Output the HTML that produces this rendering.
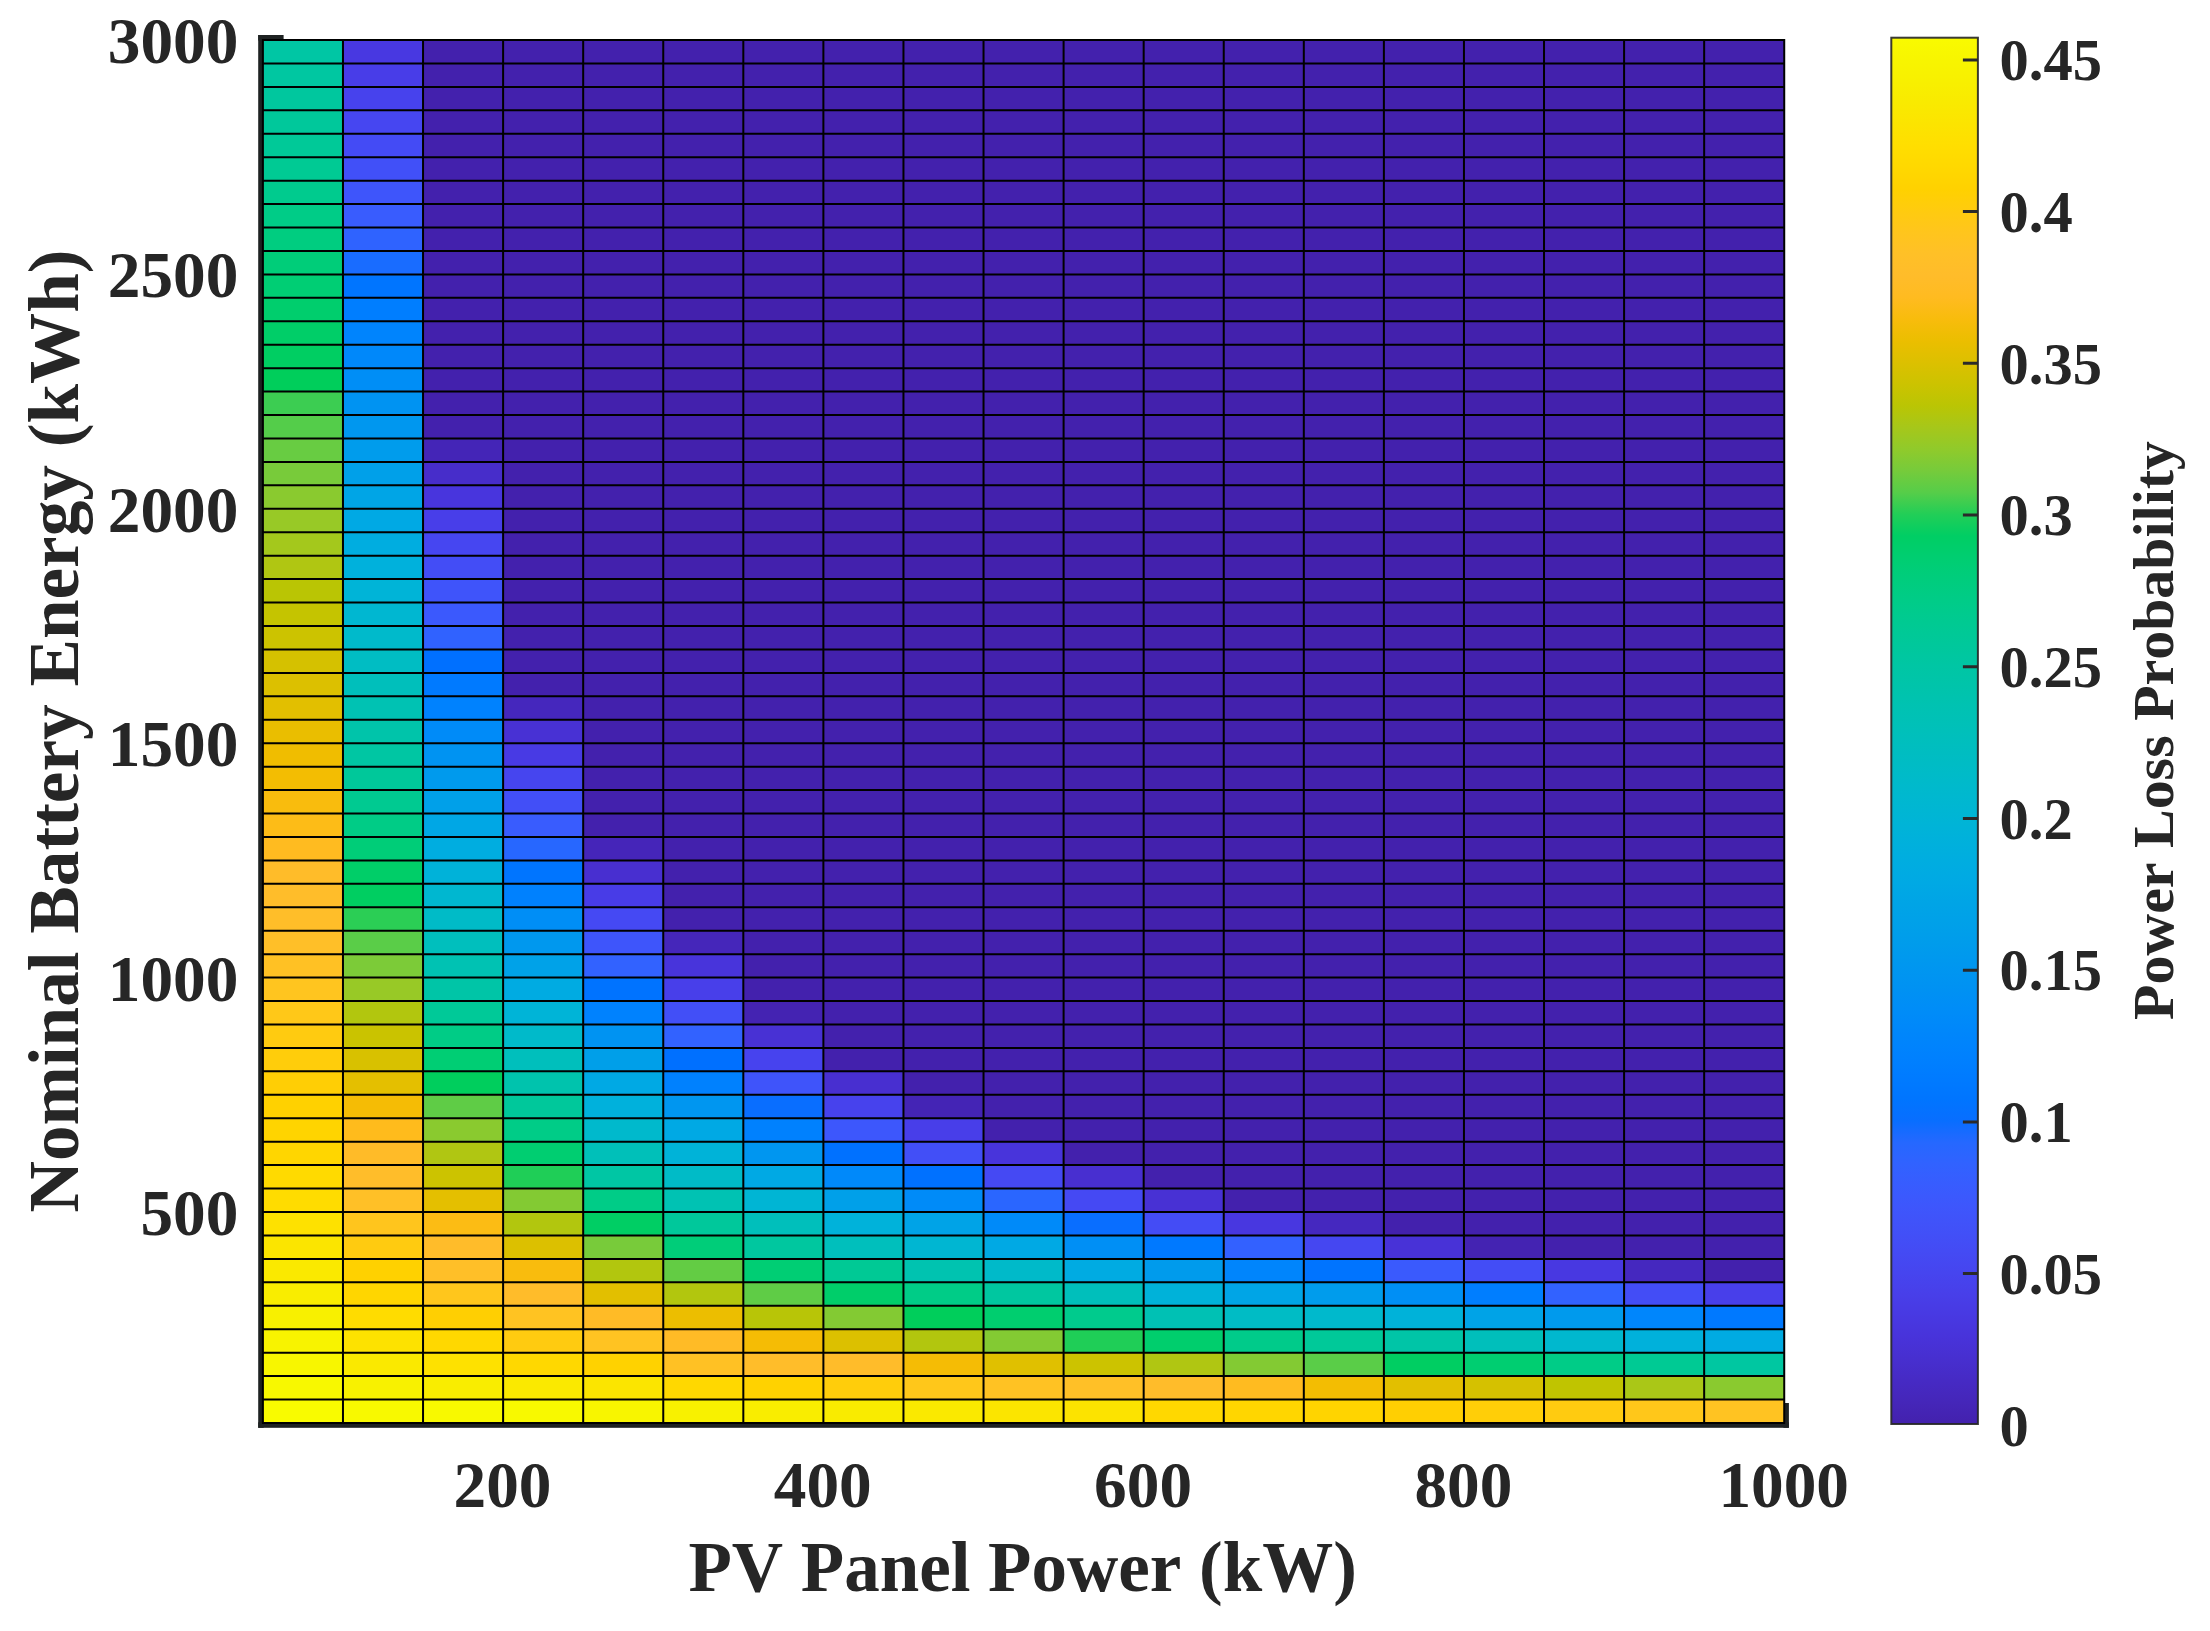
<!DOCTYPE html>
<html><head><meta charset="utf-8"><title>Power Loss Probability</title>
<style>
html,body{margin:0;padding:0;background:#fff}
body{width:2210px;height:1631px;overflow:hidden}
svg{display:block}
text{font-family:"Liberation Serif","Times New Roman",serif;font-weight:bold;fill:#262626;font-kerning:none}
</style></head><body>
<svg width="2210" height="1631" viewBox="0 0 2210 1631">
<rect width="2210" height="1631" fill="#fff"/>
<g id="ticks" fill="#1e2222">
<rect x="258.2" y="35" width="25.4" height="5.6"/>
<rect x="1783.4" y="1403" width="5.5" height="24.8"/>
</g>
<g id="axes" fill="#1e2222">
<rect x="258.2" y="35" width="5.5" height="1392.8"/>
<rect x="258.2" y="1422.3" width="1530.7" height="5.5"/>
</g>
<g id="cells" shape-rendering="crispEdges">
<rect x="262.90" y="1399.52" width="80.37" height="23.74" fill="#f9fb00"/>
<rect x="342.97" y="1399.52" width="240.51" height="23.74" fill="#f8f900"/>
<rect x="583.18" y="1399.52" width="80.37" height="23.74" fill="#f8f500"/>
<rect x="663.25" y="1399.52" width="80.37" height="23.74" fill="#f8f100"/>
<rect x="743.32" y="1399.52" width="80.37" height="23.74" fill="#f9ed00"/>
<rect x="823.39" y="1399.52" width="80.37" height="23.74" fill="#f9eb00"/>
<rect x="903.46" y="1399.52" width="80.37" height="23.74" fill="#fae900"/>
<rect x="983.53" y="1399.52" width="80.37" height="23.74" fill="#fbe500"/>
<rect x="1063.60" y="1399.52" width="80.37" height="23.74" fill="#fce300"/>
<rect x="1143.67" y="1399.52" width="80.37" height="23.74" fill="#ffd800"/>
<rect x="1223.74" y="1399.52" width="80.37" height="23.74" fill="#ffd600"/>
<rect x="1303.81" y="1399.52" width="80.37" height="23.74" fill="#ffd400"/>
<rect x="1383.88" y="1399.52" width="80.37" height="23.74" fill="#ffcf02"/>
<rect x="1463.95" y="1399.52" width="80.37" height="23.74" fill="#ffce08"/>
<rect x="1544.02" y="1399.52" width="80.37" height="23.74" fill="#ffcb10"/>
<rect x="1624.09" y="1399.52" width="80.37" height="23.74" fill="#ffc71a"/>
<rect x="1704.16" y="1399.52" width="80.37" height="23.74" fill="#ffc322"/>
<rect x="262.90" y="1376.08" width="80.37" height="23.74" fill="#f8f800"/>
<rect x="342.97" y="1376.08" width="80.37" height="23.74" fill="#f8f100"/>
<rect x="423.04" y="1376.08" width="80.37" height="23.74" fill="#f9ed00"/>
<rect x="503.11" y="1376.08" width="80.37" height="23.74" fill="#fae900"/>
<rect x="583.18" y="1376.08" width="80.37" height="23.74" fill="#fbe500"/>
<rect x="663.25" y="1376.08" width="80.37" height="23.74" fill="#ffd800"/>
<rect x="743.32" y="1376.08" width="80.37" height="23.74" fill="#ffd200"/>
<rect x="823.39" y="1376.08" width="80.37" height="23.74" fill="#ffcd0b"/>
<rect x="903.46" y="1376.08" width="80.37" height="23.74" fill="#ffc71a"/>
<rect x="983.53" y="1376.08" width="80.37" height="23.74" fill="#ffc223"/>
<rect x="1063.60" y="1376.08" width="80.37" height="23.74" fill="#ffc027"/>
<rect x="1143.67" y="1376.08" width="80.37" height="23.74" fill="#ffbc2a"/>
<rect x="1223.74" y="1376.08" width="80.37" height="23.74" fill="#ffbb20"/>
<rect x="1303.81" y="1376.08" width="80.37" height="23.74" fill="#f3bd02"/>
<rect x="1383.88" y="1376.08" width="80.37" height="23.74" fill="#e2bf00"/>
<rect x="1463.95" y="1376.08" width="80.37" height="23.74" fill="#d5c100"/>
<rect x="1544.02" y="1376.08" width="80.37" height="23.74" fill="#c0c400"/>
<rect x="1624.09" y="1376.08" width="80.37" height="23.74" fill="#aac717"/>
<rect x="1704.16" y="1376.08" width="80.37" height="23.74" fill="#8aca2f"/>
<rect x="262.90" y="1352.64" width="80.37" height="23.74" fill="#f8f600"/>
<rect x="342.97" y="1352.64" width="80.37" height="23.74" fill="#fae900"/>
<rect x="423.04" y="1352.64" width="80.37" height="23.74" fill="#fee100"/>
<rect x="503.11" y="1352.64" width="80.37" height="23.74" fill="#ffd800"/>
<rect x="583.18" y="1352.64" width="80.37" height="23.74" fill="#ffd200"/>
<rect x="663.25" y="1352.64" width="80.37" height="23.74" fill="#ffc124"/>
<rect x="743.32" y="1352.64" width="80.37" height="23.74" fill="#ffbd2a"/>
<rect x="823.39" y="1352.64" width="80.37" height="23.74" fill="#ffbc2a"/>
<rect x="903.46" y="1352.64" width="80.37" height="23.74" fill="#f5bc05"/>
<rect x="983.53" y="1352.64" width="80.37" height="23.74" fill="#e0c000"/>
<rect x="1063.60" y="1352.64" width="80.37" height="23.74" fill="#ccc300"/>
<rect x="1143.67" y="1352.64" width="80.37" height="23.74" fill="#b0c612"/>
<rect x="1223.74" y="1352.64" width="80.37" height="23.74" fill="#83ca33"/>
<rect x="1303.81" y="1352.64" width="80.37" height="23.74" fill="#5acd48"/>
<rect x="1383.88" y="1352.64" width="80.37" height="23.74" fill="#00ce62"/>
<rect x="1463.95" y="1352.64" width="80.37" height="23.74" fill="#00ce71"/>
<rect x="1544.02" y="1352.64" width="80.37" height="23.74" fill="#00cc87"/>
<rect x="1624.09" y="1352.64" width="80.37" height="23.74" fill="#00ca94"/>
<rect x="1704.16" y="1352.64" width="80.37" height="23.74" fill="#00c7a1"/>
<rect x="262.90" y="1329.20" width="80.37" height="23.74" fill="#f8f300"/>
<rect x="342.97" y="1329.20" width="80.37" height="23.74" fill="#fde200"/>
<rect x="423.04" y="1329.20" width="80.37" height="23.74" fill="#ffd800"/>
<rect x="503.11" y="1329.20" width="80.37" height="23.74" fill="#ffcb10"/>
<rect x="583.18" y="1329.20" width="80.37" height="23.74" fill="#ffc322"/>
<rect x="663.25" y="1329.20" width="80.37" height="23.74" fill="#ffbb26"/>
<rect x="743.32" y="1329.20" width="80.37" height="23.74" fill="#f5bc05"/>
<rect x="823.39" y="1329.20" width="80.37" height="23.74" fill="#dcc000"/>
<rect x="903.46" y="1329.20" width="80.37" height="23.74" fill="#b2c60e"/>
<rect x="983.53" y="1329.20" width="80.37" height="23.74" fill="#83ca33"/>
<rect x="1063.60" y="1329.20" width="80.37" height="23.74" fill="#1fce57"/>
<rect x="1143.67" y="1329.20" width="80.37" height="23.74" fill="#00ce6d"/>
<rect x="1223.74" y="1329.20" width="80.37" height="23.74" fill="#00cb8a"/>
<rect x="1303.81" y="1329.20" width="80.37" height="23.74" fill="#00c999"/>
<rect x="1383.88" y="1329.20" width="80.37" height="23.74" fill="#00c5a7"/>
<rect x="1463.95" y="1329.20" width="80.37" height="23.74" fill="#00bfbb"/>
<rect x="1544.02" y="1329.20" width="80.37" height="23.74" fill="#00b8ce"/>
<rect x="1624.09" y="1329.20" width="80.37" height="23.74" fill="#00b1db"/>
<rect x="1704.16" y="1329.20" width="80.37" height="23.74" fill="#00abe2"/>
<rect x="262.90" y="1305.76" width="80.37" height="23.74" fill="#f8f000"/>
<rect x="342.97" y="1305.76" width="80.37" height="23.74" fill="#ffdc00"/>
<rect x="423.04" y="1305.76" width="80.37" height="23.74" fill="#ffcf02"/>
<rect x="503.11" y="1305.76" width="80.37" height="23.74" fill="#ffc322"/>
<rect x="583.18" y="1305.76" width="80.37" height="23.74" fill="#ffbb26"/>
<rect x="663.25" y="1305.76" width="80.37" height="23.74" fill="#ecbe00"/>
<rect x="743.32" y="1305.76" width="80.37" height="23.74" fill="#b8c507"/>
<rect x="823.39" y="1305.76" width="80.37" height="23.74" fill="#83ca33"/>
<rect x="903.46" y="1305.76" width="80.37" height="23.74" fill="#00ce5b"/>
<rect x="983.53" y="1305.76" width="80.37" height="23.74" fill="#00ce6f"/>
<rect x="1063.60" y="1305.76" width="80.37" height="23.74" fill="#00cb8d"/>
<rect x="1143.67" y="1305.76" width="80.37" height="23.74" fill="#00c1b4"/>
<rect x="1223.74" y="1305.76" width="80.37" height="23.74" fill="#00bcc5"/>
<rect x="1303.81" y="1305.76" width="80.37" height="23.74" fill="#00b9cc"/>
<rect x="1383.88" y="1305.76" width="80.37" height="23.74" fill="#00b2d9"/>
<rect x="1463.95" y="1305.76" width="80.37" height="23.74" fill="#00a3e7"/>
<rect x="1544.02" y="1305.76" width="80.37" height="23.74" fill="#009aed"/>
<rect x="1624.09" y="1305.76" width="80.37" height="23.74" fill="#0086fc"/>
<rect x="1704.16" y="1305.76" width="80.37" height="23.74" fill="#0079ff"/>
<rect x="262.90" y="1282.32" width="80.37" height="23.74" fill="#f9ed00"/>
<rect x="342.97" y="1282.32" width="80.37" height="23.74" fill="#ffd600"/>
<rect x="423.04" y="1282.32" width="80.37" height="23.74" fill="#ffc61c"/>
<rect x="503.11" y="1282.32" width="80.37" height="23.74" fill="#ffbc2a"/>
<rect x="583.18" y="1282.32" width="80.37" height="23.74" fill="#e2bf00"/>
<rect x="663.25" y="1282.32" width="80.37" height="23.74" fill="#b2c60e"/>
<rect x="743.32" y="1282.32" width="80.37" height="23.74" fill="#5fcc46"/>
<rect x="823.39" y="1282.32" width="80.37" height="23.74" fill="#00ce6a"/>
<rect x="903.46" y="1282.32" width="80.37" height="23.74" fill="#00cc87"/>
<rect x="983.53" y="1282.32" width="80.37" height="23.74" fill="#00c7a0"/>
<rect x="1063.60" y="1282.32" width="80.37" height="23.74" fill="#00bfbb"/>
<rect x="1143.67" y="1282.32" width="80.37" height="23.74" fill="#00b2d9"/>
<rect x="1223.74" y="1282.32" width="80.37" height="23.74" fill="#00a5e6"/>
<rect x="1303.81" y="1282.32" width="80.37" height="23.74" fill="#009cec"/>
<rect x="1383.88" y="1282.32" width="80.37" height="23.74" fill="#008ff5"/>
<rect x="1463.95" y="1282.32" width="80.37" height="23.74" fill="#007eff"/>
<rect x="1544.02" y="1282.32" width="80.37" height="23.74" fill="#3262ff"/>
<rect x="1624.09" y="1282.32" width="80.37" height="23.74" fill="#434df6"/>
<rect x="1704.16" y="1282.32" width="80.37" height="23.74" fill="#483fea"/>
<rect x="262.90" y="1258.88" width="80.37" height="23.74" fill="#fae900"/>
<rect x="342.97" y="1258.88" width="80.37" height="23.74" fill="#ffd100"/>
<rect x="423.04" y="1258.88" width="80.37" height="23.74" fill="#ffbf28"/>
<rect x="503.11" y="1258.88" width="80.37" height="23.74" fill="#f9bc0d"/>
<rect x="583.18" y="1258.88" width="80.37" height="23.74" fill="#b2c60e"/>
<rect x="663.25" y="1258.88" width="80.37" height="23.74" fill="#63cc44"/>
<rect x="743.32" y="1258.88" width="80.37" height="23.74" fill="#00ce74"/>
<rect x="823.39" y="1258.88" width="80.37" height="23.74" fill="#00c995"/>
<rect x="903.46" y="1258.88" width="80.37" height="23.74" fill="#00c3b0"/>
<rect x="983.53" y="1258.88" width="80.37" height="23.74" fill="#00bac9"/>
<rect x="1063.60" y="1258.88" width="80.37" height="23.74" fill="#00abe2"/>
<rect x="1143.67" y="1258.88" width="80.37" height="23.74" fill="#009bec"/>
<rect x="1223.74" y="1258.88" width="80.37" height="23.74" fill="#0085fc"/>
<rect x="1303.81" y="1258.88" width="80.37" height="23.74" fill="#0074ff"/>
<rect x="1383.88" y="1258.88" width="80.37" height="23.74" fill="#3a5afd"/>
<rect x="1463.95" y="1258.88" width="80.37" height="23.74" fill="#434df6"/>
<rect x="1544.02" y="1258.88" width="80.37" height="23.74" fill="#4838e1"/>
<rect x="1624.09" y="1258.88" width="80.37" height="23.74" fill="#4528bf"/>
<rect x="1704.16" y="1258.88" width="80.37" height="23.74" fill="#4321ad"/>
<rect x="262.90" y="1235.44" width="80.37" height="23.74" fill="#fbe500"/>
<rect x="342.97" y="1235.44" width="80.37" height="23.74" fill="#ffcb10"/>
<rect x="423.04" y="1235.44" width="80.37" height="23.74" fill="#ffbc2a"/>
<rect x="503.11" y="1235.44" width="80.37" height="23.74" fill="#dcc000"/>
<rect x="583.18" y="1235.44" width="80.37" height="23.74" fill="#78cb3a"/>
<rect x="663.25" y="1235.44" width="80.37" height="23.74" fill="#00cd79"/>
<rect x="743.32" y="1235.44" width="80.37" height="23.74" fill="#00c79f"/>
<rect x="823.39" y="1235.44" width="80.37" height="23.74" fill="#00bfbc"/>
<rect x="903.46" y="1235.44" width="80.37" height="23.74" fill="#00b6d2"/>
<rect x="983.53" y="1235.44" width="80.37" height="23.74" fill="#00a9e4"/>
<rect x="1063.60" y="1235.44" width="80.37" height="23.74" fill="#008ff5"/>
<rect x="1143.67" y="1235.44" width="80.37" height="23.74" fill="#0079ff"/>
<rect x="1223.74" y="1235.44" width="80.37" height="23.74" fill="#3361ff"/>
<rect x="1303.81" y="1235.44" width="80.37" height="23.74" fill="#4547f1"/>
<rect x="1383.88" y="1235.44" width="80.37" height="23.74" fill="#4832d7"/>
<rect x="1463.95" y="1235.44" width="80.37" height="23.74" fill="#4423b2"/>
<rect x="1544.02" y="1235.44" width="240.51" height="23.74" fill="#4321ad"/>
<rect x="262.90" y="1212.00" width="80.37" height="23.74" fill="#fee100"/>
<rect x="342.97" y="1212.00" width="80.37" height="23.74" fill="#ffc51d"/>
<rect x="423.04" y="1212.00" width="80.37" height="23.74" fill="#fcbc14"/>
<rect x="503.11" y="1212.00" width="80.37" height="23.74" fill="#b2c60e"/>
<rect x="583.18" y="1212.00" width="80.37" height="23.74" fill="#00ce64"/>
<rect x="663.25" y="1212.00" width="80.37" height="23.74" fill="#00c89b"/>
<rect x="743.32" y="1212.00" width="80.37" height="23.74" fill="#00bfbb"/>
<rect x="823.39" y="1212.00" width="80.37" height="23.74" fill="#00b2da"/>
<rect x="903.46" y="1212.00" width="80.37" height="23.74" fill="#00a3e7"/>
<rect x="983.53" y="1212.00" width="80.37" height="23.74" fill="#008af9"/>
<rect x="1063.60" y="1212.00" width="80.37" height="23.74" fill="#096eff"/>
<rect x="1143.67" y="1212.00" width="80.37" height="23.74" fill="#444cf5"/>
<rect x="1223.74" y="1212.00" width="80.37" height="23.74" fill="#4837e0"/>
<rect x="1303.81" y="1212.00" width="80.37" height="23.74" fill="#4528bf"/>
<rect x="1383.88" y="1212.00" width="400.65" height="23.74" fill="#4321ad"/>
<rect x="262.90" y="1188.56" width="80.37" height="23.74" fill="#ffdc00"/>
<rect x="342.97" y="1188.56" width="80.37" height="23.74" fill="#ffc027"/>
<rect x="423.04" y="1188.56" width="80.37" height="23.74" fill="#e4bf00"/>
<rect x="503.11" y="1188.56" width="80.37" height="23.74" fill="#83ca33"/>
<rect x="583.18" y="1188.56" width="80.37" height="23.74" fill="#00cc87"/>
<rect x="663.25" y="1188.56" width="80.37" height="23.74" fill="#00c2b3"/>
<rect x="743.32" y="1188.56" width="80.37" height="23.74" fill="#00b5d4"/>
<rect x="823.39" y="1188.56" width="80.37" height="23.74" fill="#00a0e9"/>
<rect x="903.46" y="1188.56" width="80.37" height="23.74" fill="#008bf8"/>
<rect x="983.53" y="1188.56" width="80.37" height="23.74" fill="#2a66ff"/>
<rect x="1063.60" y="1188.56" width="80.37" height="23.74" fill="#4549f3"/>
<rect x="1143.67" y="1188.56" width="80.37" height="23.74" fill="#4831d4"/>
<rect x="1223.74" y="1188.56" width="560.79" height="23.74" fill="#4321ad"/>
<rect x="262.90" y="1165.12" width="80.37" height="23.74" fill="#ffda00"/>
<rect x="342.97" y="1165.12" width="80.37" height="23.74" fill="#ffbd2a"/>
<rect x="423.04" y="1165.12" width="80.37" height="23.74" fill="#ccc300"/>
<rect x="503.11" y="1165.12" width="80.37" height="23.74" fill="#1fce57"/>
<rect x="583.18" y="1165.12" width="80.37" height="23.74" fill="#00c6a4"/>
<rect x="663.25" y="1165.12" width="80.37" height="23.74" fill="#00bbc7"/>
<rect x="743.32" y="1165.12" width="80.37" height="23.74" fill="#00a9e4"/>
<rect x="823.39" y="1165.12" width="80.37" height="23.74" fill="#0089fa"/>
<rect x="903.46" y="1165.12" width="80.37" height="23.74" fill="#0071ff"/>
<rect x="983.53" y="1165.12" width="80.37" height="23.74" fill="#4549f3"/>
<rect x="1063.60" y="1165.12" width="80.37" height="23.74" fill="#482fd0"/>
<rect x="1143.67" y="1165.12" width="640.86" height="23.74" fill="#4321ad"/>
<rect x="262.90" y="1141.68" width="80.37" height="23.74" fill="#ffd600"/>
<rect x="342.97" y="1141.68" width="80.37" height="23.74" fill="#ffbb28"/>
<rect x="423.04" y="1141.68" width="80.37" height="23.74" fill="#b0c612"/>
<rect x="503.11" y="1141.68" width="80.37" height="23.74" fill="#00ce71"/>
<rect x="583.18" y="1141.68" width="80.37" height="23.74" fill="#00c0b9"/>
<rect x="663.25" y="1141.68" width="80.37" height="23.74" fill="#00b3d8"/>
<rect x="743.32" y="1141.68" width="80.37" height="23.74" fill="#0096f0"/>
<rect x="823.39" y="1141.68" width="80.37" height="23.74" fill="#0071ff"/>
<rect x="903.46" y="1141.68" width="80.37" height="23.74" fill="#424ff7"/>
<rect x="983.53" y="1141.68" width="80.37" height="23.74" fill="#4834db"/>
<rect x="1063.60" y="1141.68" width="720.93" height="23.74" fill="#4321ad"/>
<rect x="262.90" y="1118.24" width="80.37" height="23.74" fill="#ffd400"/>
<rect x="342.97" y="1118.24" width="80.37" height="23.74" fill="#ffbb1c"/>
<rect x="423.04" y="1118.24" width="80.37" height="23.74" fill="#8aca2f"/>
<rect x="503.11" y="1118.24" width="80.37" height="23.74" fill="#00cc87"/>
<rect x="583.18" y="1118.24" width="80.37" height="23.74" fill="#00b9cc"/>
<rect x="663.25" y="1118.24" width="80.37" height="23.74" fill="#00a9e4"/>
<rect x="743.32" y="1118.24" width="80.37" height="23.74" fill="#0081fe"/>
<rect x="823.39" y="1118.24" width="80.37" height="23.74" fill="#3d57fc"/>
<rect x="903.46" y="1118.24" width="80.37" height="23.74" fill="#483ee9"/>
<rect x="983.53" y="1118.24" width="801.00" height="23.74" fill="#4321ad"/>
<rect x="262.90" y="1094.80" width="80.37" height="23.74" fill="#ffd100"/>
<rect x="342.97" y="1094.80" width="80.37" height="23.74" fill="#f5bc05"/>
<rect x="423.04" y="1094.80" width="80.37" height="23.74" fill="#5fcc46"/>
<rect x="503.11" y="1094.80" width="80.37" height="23.74" fill="#00c89b"/>
<rect x="583.18" y="1094.80" width="80.37" height="23.74" fill="#00b1dc"/>
<rect x="663.25" y="1094.80" width="80.37" height="23.74" fill="#0096f0"/>
<rect x="743.32" y="1094.80" width="80.37" height="23.74" fill="#096eff"/>
<rect x="823.39" y="1094.80" width="80.37" height="23.74" fill="#4742ed"/>
<rect x="903.46" y="1094.80" width="80.37" height="23.74" fill="#4424b5"/>
<rect x="983.53" y="1094.80" width="801.00" height="23.74" fill="#4321ad"/>
<rect x="262.90" y="1071.36" width="80.37" height="23.74" fill="#ffce05"/>
<rect x="342.97" y="1071.36" width="80.37" height="23.74" fill="#e4bf00"/>
<rect x="423.04" y="1071.36" width="80.37" height="23.74" fill="#00ce5d"/>
<rect x="503.11" y="1071.36" width="80.37" height="23.74" fill="#00c3ad"/>
<rect x="583.18" y="1071.36" width="80.37" height="23.74" fill="#00a9e4"/>
<rect x="663.25" y="1071.36" width="80.37" height="23.74" fill="#0081fe"/>
<rect x="743.32" y="1071.36" width="80.37" height="23.74" fill="#3f54fa"/>
<rect x="823.39" y="1071.36" width="80.37" height="23.74" fill="#482fd0"/>
<rect x="903.46" y="1071.36" width="881.07" height="23.74" fill="#4321ad"/>
<rect x="262.90" y="1047.92" width="80.37" height="23.74" fill="#ffcd0b"/>
<rect x="342.97" y="1047.92" width="80.37" height="23.74" fill="#d8c100"/>
<rect x="423.04" y="1047.92" width="80.37" height="23.74" fill="#00ce74"/>
<rect x="503.11" y="1047.92" width="80.37" height="23.74" fill="#00bfbc"/>
<rect x="583.18" y="1047.92" width="80.37" height="23.74" fill="#009fe9"/>
<rect x="663.25" y="1047.92" width="80.37" height="23.74" fill="#0070ff"/>
<rect x="743.32" y="1047.92" width="80.37" height="23.74" fill="#4743ee"/>
<rect x="823.39" y="1047.92" width="961.14" height="23.74" fill="#4321ad"/>
<rect x="262.90" y="1024.48" width="80.37" height="23.74" fill="#ffcb10"/>
<rect x="342.97" y="1024.48" width="80.37" height="23.74" fill="#cac300"/>
<rect x="423.04" y="1024.48" width="80.37" height="23.74" fill="#00cc86"/>
<rect x="503.11" y="1024.48" width="80.37" height="23.74" fill="#00baca"/>
<rect x="583.18" y="1024.48" width="80.37" height="23.74" fill="#0093f2"/>
<rect x="663.25" y="1024.48" width="80.37" height="23.74" fill="#3262ff"/>
<rect x="743.32" y="1024.48" width="80.37" height="23.74" fill="#4831d4"/>
<rect x="823.39" y="1024.48" width="961.14" height="23.74" fill="#4321ad"/>
<rect x="262.90" y="1001.04" width="80.37" height="23.74" fill="#ffc818"/>
<rect x="342.97" y="1001.04" width="80.37" height="23.74" fill="#b2c60e"/>
<rect x="423.04" y="1001.04" width="80.37" height="23.74" fill="#00c998"/>
<rect x="503.11" y="1001.04" width="80.37" height="23.74" fill="#00b4d7"/>
<rect x="583.18" y="1001.04" width="80.37" height="23.74" fill="#0082fe"/>
<rect x="663.25" y="1001.04" width="80.37" height="23.74" fill="#424ff7"/>
<rect x="743.32" y="1001.04" width="80.37" height="23.74" fill="#4423b2"/>
<rect x="823.39" y="1001.04" width="961.14" height="23.74" fill="#4321ad"/>
<rect x="262.90" y="977.60" width="80.37" height="23.74" fill="#ffc51f"/>
<rect x="342.97" y="977.60" width="80.37" height="23.74" fill="#98c926"/>
<rect x="423.04" y="977.60" width="80.37" height="23.74" fill="#00c5a7"/>
<rect x="503.11" y="977.60" width="80.37" height="23.74" fill="#00abe2"/>
<rect x="583.18" y="977.60" width="80.37" height="23.74" fill="#0073ff"/>
<rect x="663.25" y="977.60" width="80.37" height="23.74" fill="#483fea"/>
<rect x="743.32" y="977.60" width="1041.21" height="23.74" fill="#4321ad"/>
<rect x="262.90" y="954.16" width="80.37" height="23.74" fill="#ffc124"/>
<rect x="342.97" y="954.16" width="80.37" height="23.74" fill="#7ccb38"/>
<rect x="423.04" y="954.16" width="80.37" height="23.74" fill="#00c2b3"/>
<rect x="503.11" y="954.16" width="80.37" height="23.74" fill="#00a2e8"/>
<rect x="583.18" y="954.16" width="80.37" height="23.74" fill="#3262ff"/>
<rect x="663.25" y="954.16" width="80.37" height="23.74" fill="#4834db"/>
<rect x="743.32" y="954.16" width="1041.21" height="23.74" fill="#4321ad"/>
<rect x="262.90" y="930.72" width="80.37" height="23.74" fill="#ffbf28"/>
<rect x="342.97" y="930.72" width="80.37" height="23.74" fill="#5acd48"/>
<rect x="423.04" y="930.72" width="80.37" height="23.74" fill="#00bfbd"/>
<rect x="503.11" y="930.72" width="80.37" height="23.74" fill="#0098ee"/>
<rect x="583.18" y="930.72" width="80.37" height="23.74" fill="#3e55fb"/>
<rect x="663.25" y="930.72" width="80.37" height="23.74" fill="#4526ba"/>
<rect x="743.32" y="930.72" width="1041.21" height="23.74" fill="#4321ad"/>
<rect x="262.90" y="907.28" width="80.37" height="23.74" fill="#ffbe29"/>
<rect x="342.97" y="907.28" width="80.37" height="23.74" fill="#2bce55"/>
<rect x="423.04" y="907.28" width="80.37" height="23.74" fill="#00bbc7"/>
<rect x="503.11" y="907.28" width="80.37" height="23.74" fill="#008ef6"/>
<rect x="583.18" y="907.28" width="80.37" height="23.74" fill="#4549f3"/>
<rect x="663.25" y="907.28" width="1121.28" height="23.74" fill="#4321ad"/>
<rect x="262.90" y="883.84" width="80.37" height="23.74" fill="#ffbd2a"/>
<rect x="342.97" y="883.84" width="80.37" height="23.74" fill="#00ce61"/>
<rect x="423.04" y="883.84" width="80.37" height="23.74" fill="#00b7d0"/>
<rect x="503.11" y="883.84" width="80.37" height="23.74" fill="#0081fe"/>
<rect x="583.18" y="883.84" width="80.37" height="23.74" fill="#483ce7"/>
<rect x="663.25" y="883.84" width="1121.28" height="23.74" fill="#4321ad"/>
<rect x="262.90" y="860.40" width="80.37" height="23.74" fill="#ffbc29"/>
<rect x="342.97" y="860.40" width="80.37" height="23.74" fill="#00ce68"/>
<rect x="423.04" y="860.40" width="80.37" height="23.74" fill="#00b2d9"/>
<rect x="503.11" y="860.40" width="80.37" height="23.74" fill="#0075ff"/>
<rect x="583.18" y="860.40" width="80.37" height="23.74" fill="#482fd0"/>
<rect x="663.25" y="860.40" width="1121.28" height="23.74" fill="#4321ad"/>
<rect x="262.90" y="836.96" width="80.37" height="23.74" fill="#ffbb20"/>
<rect x="342.97" y="836.96" width="80.37" height="23.74" fill="#00cd78"/>
<rect x="423.04" y="836.96" width="80.37" height="23.74" fill="#00ade0"/>
<rect x="503.11" y="836.96" width="80.37" height="23.74" fill="#2767ff"/>
<rect x="583.18" y="836.96" width="80.37" height="23.74" fill="#4525b9"/>
<rect x="663.25" y="836.96" width="1121.28" height="23.74" fill="#4321ad"/>
<rect x="262.90" y="813.52" width="80.37" height="23.74" fill="#fdbc17"/>
<rect x="342.97" y="813.52" width="80.37" height="23.74" fill="#00cc86"/>
<rect x="423.04" y="813.52" width="80.37" height="23.74" fill="#00a7e5"/>
<rect x="503.11" y="813.52" width="80.37" height="23.74" fill="#395cfe"/>
<rect x="583.18" y="813.52" width="1201.35" height="23.74" fill="#4321ad"/>
<rect x="262.90" y="790.08" width="80.37" height="23.74" fill="#f9bc0d"/>
<rect x="342.97" y="790.08" width="80.37" height="23.74" fill="#00ca91"/>
<rect x="423.04" y="790.08" width="80.37" height="23.74" fill="#00a0e9"/>
<rect x="503.11" y="790.08" width="80.37" height="23.74" fill="#424ff7"/>
<rect x="583.18" y="790.08" width="1201.35" height="23.74" fill="#4321ad"/>
<rect x="262.90" y="766.64" width="80.37" height="23.74" fill="#f3bd02"/>
<rect x="342.97" y="766.64" width="80.37" height="23.74" fill="#00c89a"/>
<rect x="423.04" y="766.64" width="80.37" height="23.74" fill="#009aed"/>
<rect x="503.11" y="766.64" width="80.37" height="23.74" fill="#4645ef"/>
<rect x="583.18" y="766.64" width="1201.35" height="23.74" fill="#4321ad"/>
<rect x="262.90" y="743.20" width="80.37" height="23.74" fill="#f0bd00"/>
<rect x="342.97" y="743.20" width="80.37" height="23.74" fill="#00c6a3"/>
<rect x="423.04" y="743.20" width="80.37" height="23.74" fill="#0093f2"/>
<rect x="503.11" y="743.20" width="80.37" height="23.74" fill="#483ae4"/>
<rect x="583.18" y="743.20" width="1201.35" height="23.74" fill="#4321ad"/>
<rect x="262.90" y="719.76" width="80.37" height="23.74" fill="#eabe00"/>
<rect x="342.97" y="719.76" width="80.37" height="23.74" fill="#00c4aa"/>
<rect x="423.04" y="719.76" width="80.37" height="23.74" fill="#008bf8"/>
<rect x="503.11" y="719.76" width="80.37" height="23.74" fill="#4831d4"/>
<rect x="583.18" y="719.76" width="1201.35" height="23.74" fill="#4321ad"/>
<rect x="262.90" y="696.32" width="80.37" height="23.74" fill="#e2bf00"/>
<rect x="342.97" y="696.32" width="80.37" height="23.74" fill="#00c2b3"/>
<rect x="423.04" y="696.32" width="80.37" height="23.74" fill="#0082fe"/>
<rect x="503.11" y="696.32" width="80.37" height="23.74" fill="#4527bd"/>
<rect x="583.18" y="696.32" width="1201.35" height="23.74" fill="#4321ad"/>
<rect x="262.90" y="672.88" width="80.37" height="23.74" fill="#dcc000"/>
<rect x="342.97" y="672.88" width="80.37" height="23.74" fill="#00bfbb"/>
<rect x="423.04" y="672.88" width="80.37" height="23.74" fill="#007aff"/>
<rect x="503.11" y="672.88" width="1281.42" height="23.74" fill="#4321ad"/>
<rect x="262.90" y="649.44" width="80.37" height="23.74" fill="#d5c100"/>
<rect x="342.97" y="649.44" width="80.37" height="23.74" fill="#00bdc3"/>
<rect x="423.04" y="649.44" width="80.37" height="23.74" fill="#0070ff"/>
<rect x="503.11" y="649.44" width="1281.42" height="23.74" fill="#4321ad"/>
<rect x="262.90" y="626.00" width="80.37" height="23.74" fill="#ccc300"/>
<rect x="342.97" y="626.00" width="80.37" height="23.74" fill="#00bacb"/>
<rect x="423.04" y="626.00" width="80.37" height="23.74" fill="#3062ff"/>
<rect x="503.11" y="626.00" width="1281.42" height="23.74" fill="#4321ad"/>
<rect x="262.90" y="602.56" width="80.37" height="23.74" fill="#c5c400"/>
<rect x="342.97" y="602.56" width="80.37" height="23.74" fill="#00b7d1"/>
<rect x="423.04" y="602.56" width="80.37" height="23.74" fill="#3b59fd"/>
<rect x="503.11" y="602.56" width="1281.42" height="23.74" fill="#4321ad"/>
<rect x="262.90" y="579.12" width="80.37" height="23.74" fill="#bac504"/>
<rect x="342.97" y="579.12" width="80.37" height="23.74" fill="#00b4d7"/>
<rect x="423.04" y="579.12" width="80.37" height="23.74" fill="#3f54fa"/>
<rect x="503.11" y="579.12" width="1281.42" height="23.74" fill="#4321ad"/>
<rect x="262.90" y="555.68" width="80.37" height="23.74" fill="#b0c612"/>
<rect x="342.97" y="555.68" width="80.37" height="23.74" fill="#00b1dc"/>
<rect x="423.04" y="555.68" width="80.37" height="23.74" fill="#434df6"/>
<rect x="503.11" y="555.68" width="1281.42" height="23.74" fill="#4321ad"/>
<rect x="262.90" y="532.24" width="80.37" height="23.74" fill="#a4c81c"/>
<rect x="342.97" y="532.24" width="80.37" height="23.74" fill="#00ade0"/>
<rect x="423.04" y="532.24" width="80.37" height="23.74" fill="#4646f1"/>
<rect x="503.11" y="532.24" width="1281.42" height="23.74" fill="#4321ad"/>
<rect x="262.90" y="508.80" width="80.37" height="23.74" fill="#98c926"/>
<rect x="342.97" y="508.80" width="80.37" height="23.74" fill="#00a9e4"/>
<rect x="423.04" y="508.80" width="80.37" height="23.74" fill="#483ee9"/>
<rect x="503.11" y="508.80" width="1281.42" height="23.74" fill="#4321ad"/>
<rect x="262.90" y="485.36" width="80.37" height="23.74" fill="#8aca2f"/>
<rect x="342.97" y="485.36" width="80.37" height="23.74" fill="#00a5e6"/>
<rect x="423.04" y="485.36" width="80.37" height="23.74" fill="#4835dd"/>
<rect x="503.11" y="485.36" width="1281.42" height="23.74" fill="#4321ad"/>
<rect x="262.90" y="461.92" width="80.37" height="23.74" fill="#78cb3a"/>
<rect x="342.97" y="461.92" width="80.37" height="23.74" fill="#00a0e9"/>
<rect x="423.04" y="461.92" width="80.37" height="23.74" fill="#472dca"/>
<rect x="503.11" y="461.92" width="1281.42" height="23.74" fill="#4321ad"/>
<rect x="262.90" y="438.48" width="80.37" height="23.74" fill="#68cc42"/>
<rect x="342.97" y="438.48" width="80.37" height="23.74" fill="#009cec"/>
<rect x="423.04" y="438.48" width="80.37" height="23.74" fill="#4425b7"/>
<rect x="503.11" y="438.48" width="1281.42" height="23.74" fill="#4321ad"/>
<rect x="262.90" y="415.04" width="80.37" height="23.74" fill="#54cd4a"/>
<rect x="342.97" y="415.04" width="80.37" height="23.74" fill="#0097ef"/>
<rect x="423.04" y="415.04" width="1361.49" height="23.74" fill="#4321ad"/>
<rect x="262.90" y="391.60" width="80.37" height="23.74" fill="#3ccd52"/>
<rect x="342.97" y="391.60" width="80.37" height="23.74" fill="#0093f2"/>
<rect x="423.04" y="391.60" width="1361.49" height="23.74" fill="#4321ad"/>
<rect x="262.90" y="368.16" width="80.37" height="23.74" fill="#00ce5b"/>
<rect x="342.97" y="368.16" width="80.37" height="23.74" fill="#008ef6"/>
<rect x="423.04" y="368.16" width="1361.49" height="23.74" fill="#4321ad"/>
<rect x="262.90" y="344.72" width="80.37" height="23.74" fill="#00ce62"/>
<rect x="342.97" y="344.72" width="80.37" height="23.74" fill="#0088fa"/>
<rect x="423.04" y="344.72" width="1361.49" height="23.74" fill="#4321ad"/>
<rect x="262.90" y="321.28" width="80.37" height="23.74" fill="#00ce68"/>
<rect x="342.97" y="321.28" width="80.37" height="23.74" fill="#0084fd"/>
<rect x="423.04" y="321.28" width="1361.49" height="23.74" fill="#4321ad"/>
<rect x="262.90" y="297.84" width="80.37" height="23.74" fill="#00ce6d"/>
<rect x="342.97" y="297.84" width="80.37" height="23.74" fill="#007eff"/>
<rect x="423.04" y="297.84" width="1361.49" height="23.74" fill="#4321ad"/>
<rect x="262.90" y="274.40" width="80.37" height="23.74" fill="#00ce74"/>
<rect x="342.97" y="274.40" width="80.37" height="23.74" fill="#0075ff"/>
<rect x="423.04" y="274.40" width="1361.49" height="23.74" fill="#4321ad"/>
<rect x="262.90" y="250.96" width="80.37" height="23.74" fill="#00cd79"/>
<rect x="342.97" y="250.96" width="80.37" height="23.74" fill="#196cff"/>
<rect x="423.04" y="250.96" width="1361.49" height="23.74" fill="#4321ad"/>
<rect x="262.90" y="227.52" width="80.37" height="23.74" fill="#00cd80"/>
<rect x="342.97" y="227.52" width="80.37" height="23.74" fill="#2f63ff"/>
<rect x="423.04" y="227.52" width="1361.49" height="23.74" fill="#4321ad"/>
<rect x="262.90" y="204.08" width="80.37" height="23.74" fill="#00cc87"/>
<rect x="342.97" y="204.08" width="80.37" height="23.74" fill="#395cfe"/>
<rect x="423.04" y="204.08" width="1361.49" height="23.74" fill="#4321ad"/>
<rect x="262.90" y="180.64" width="80.37" height="23.74" fill="#00cb8e"/>
<rect x="342.97" y="180.64" width="80.37" height="23.74" fill="#3e55fb"/>
<rect x="423.04" y="180.64" width="1361.49" height="23.74" fill="#4321ad"/>
<rect x="262.90" y="157.20" width="80.37" height="23.74" fill="#00ca94"/>
<rect x="342.97" y="157.20" width="80.37" height="23.74" fill="#4150f8"/>
<rect x="423.04" y="157.20" width="1361.49" height="23.74" fill="#4321ad"/>
<rect x="262.90" y="133.76" width="80.37" height="23.74" fill="#00c998"/>
<rect x="342.97" y="133.76" width="80.37" height="23.74" fill="#444bf5"/>
<rect x="423.04" y="133.76" width="1361.49" height="23.74" fill="#4321ad"/>
<rect x="262.90" y="110.32" width="80.37" height="23.74" fill="#00c89b"/>
<rect x="342.97" y="110.32" width="80.37" height="23.74" fill="#4646f1"/>
<rect x="423.04" y="110.32" width="1361.49" height="23.74" fill="#4321ad"/>
<rect x="262.90" y="86.88" width="80.37" height="23.74" fill="#00c79e"/>
<rect x="342.97" y="86.88" width="80.37" height="23.74" fill="#4742ed"/>
<rect x="423.04" y="86.88" width="1361.49" height="23.74" fill="#4321ad"/>
<rect x="262.90" y="63.44" width="80.37" height="23.74" fill="#00c7a1"/>
<rect x="342.97" y="63.44" width="80.37" height="23.74" fill="#483de8"/>
<rect x="423.04" y="63.44" width="1361.49" height="23.74" fill="#4321ad"/>
<rect x="262.90" y="40.00" width="80.37" height="23.74" fill="#00c6a4"/>
<rect x="342.97" y="40.00" width="80.37" height="23.74" fill="#4838e1"/>
<rect x="423.04" y="40.00" width="1361.49" height="23.74" fill="#4321ad"/>
</g>
<path d="M262.90 39.05V1422.96M342.97 39.05V1422.96M423.04 39.05V1422.96M503.11 39.05V1422.96M583.18 39.05V1422.96M663.25 39.05V1422.96M743.32 39.05V1422.96M823.39 39.05V1422.96M903.46 39.05V1422.96M983.53 39.05V1422.96M1063.60 39.05V1422.96M1143.67 39.05V1422.96M1223.74 39.05V1422.96M1303.81 39.05V1422.96M1383.88 39.05V1422.96M1463.95 39.05V1422.96M1544.02 39.05V1422.96M1624.09 39.05V1422.96M1704.16 39.05V1422.96M1784.23 39.05V1422.96M261.95 40.00H1785.18M261.95 63.44H1785.18M261.95 86.88H1785.18M261.95 110.32H1785.18M261.95 133.76H1785.18M261.95 157.20H1785.18M261.95 180.64H1785.18M261.95 204.08H1785.18M261.95 227.52H1785.18M261.95 250.96H1785.18M261.95 274.40H1785.18M261.95 297.84H1785.18M261.95 321.28H1785.18M261.95 344.72H1785.18M261.95 368.16H1785.18M261.95 391.60H1785.18M261.95 415.04H1785.18M261.95 438.48H1785.18M261.95 461.92H1785.18M261.95 485.36H1785.18M261.95 508.80H1785.18M261.95 532.24H1785.18M261.95 555.68H1785.18M261.95 579.12H1785.18M261.95 602.56H1785.18M261.95 626.00H1785.18M261.95 649.44H1785.18M261.95 672.88H1785.18M261.95 696.32H1785.18M261.95 719.76H1785.18M261.95 743.20H1785.18M261.95 766.64H1785.18M261.95 790.08H1785.18M261.95 813.52H1785.18M261.95 836.96H1785.18M261.95 860.40H1785.18M261.95 883.84H1785.18M261.95 907.28H1785.18M261.95 930.72H1785.18M261.95 954.16H1785.18M261.95 977.60H1785.18M261.95 1001.04H1785.18M261.95 1024.48H1785.18M261.95 1047.92H1785.18M261.95 1071.36H1785.18M261.95 1094.80H1785.18M261.95 1118.24H1785.18M261.95 1141.68H1785.18M261.95 1165.12H1785.18M261.95 1188.56H1785.18M261.95 1212.00H1785.18M261.95 1235.44H1785.18M261.95 1258.88H1785.18M261.95 1282.32H1785.18M261.95 1305.76H1785.18M261.95 1329.20H1785.18M261.95 1352.64H1785.18M261.95 1376.08H1785.18M261.95 1399.52H1785.18M261.95 1422.96H1785.18" stroke="#000" stroke-width="2" fill="none"/>
<defs><linearGradient id="cb" x1="0" y1="1" x2="0" y2="0">
<stop offset="0.0000" stop-color="#4321ad"/>
<stop offset="0.0156" stop-color="#4526b9"/>
<stop offset="0.0312" stop-color="#462ac4"/>
<stop offset="0.0469" stop-color="#472fcf"/>
<stop offset="0.0625" stop-color="#4833da"/>
<stop offset="0.0781" stop-color="#4839e2"/>
<stop offset="0.0938" stop-color="#483fe9"/>
<stop offset="0.1094" stop-color="#4645ef"/>
<stop offset="0.1250" stop-color="#444bf4"/>
<stop offset="0.1406" stop-color="#4151f8"/>
<stop offset="0.1562" stop-color="#3e56fc"/>
<stop offset="0.1719" stop-color="#385cfe"/>
<stop offset="0.1875" stop-color="#3162ff"/>
<stop offset="0.2031" stop-color="#2568ff"/>
<stop offset="0.2188" stop-color="#086eff"/>
<stop offset="0.2344" stop-color="#0075ff"/>
<stop offset="0.2500" stop-color="#007bff"/>
<stop offset="0.2656" stop-color="#0081fe"/>
<stop offset="0.2812" stop-color="#0086fb"/>
<stop offset="0.2969" stop-color="#008cf8"/>
<stop offset="0.3125" stop-color="#0091f3"/>
<stop offset="0.3281" stop-color="#0096f0"/>
<stop offset="0.3438" stop-color="#009bec"/>
<stop offset="0.3594" stop-color="#00a0e9"/>
<stop offset="0.3750" stop-color="#00a4e6"/>
<stop offset="0.3906" stop-color="#00a9e4"/>
<stop offset="0.4062" stop-color="#00ade0"/>
<stop offset="0.4219" stop-color="#00b1db"/>
<stop offset="0.4375" stop-color="#00b5d5"/>
<stop offset="0.4531" stop-color="#00b8cf"/>
<stop offset="0.4688" stop-color="#00bbc8"/>
<stop offset="0.4844" stop-color="#00bdc1"/>
<stop offset="0.5000" stop-color="#00c0ba"/>
<stop offset="0.5156" stop-color="#00c2b3"/>
<stop offset="0.5312" stop-color="#00c4ab"/>
<stop offset="0.5469" stop-color="#00c6a4"/>
<stop offset="0.5625" stop-color="#00c89b"/>
<stop offset="0.5781" stop-color="#00ca92"/>
<stop offset="0.5938" stop-color="#00cc88"/>
<stop offset="0.6094" stop-color="#00cd7d"/>
<stop offset="0.6250" stop-color="#00ce71"/>
<stop offset="0.6406" stop-color="#00ce64"/>
<stop offset="0.6562" stop-color="#22ce57"/>
<stop offset="0.6719" stop-color="#56cd49"/>
<stop offset="0.6875" stop-color="#76cb3b"/>
<stop offset="0.7031" stop-color="#90ca2b"/>
<stop offset="0.7188" stop-color="#a6c71a"/>
<stop offset="0.7344" stop-color="#bac504"/>
<stop offset="0.7500" stop-color="#ccc300"/>
<stop offset="0.7656" stop-color="#dcc000"/>
<stop offset="0.7812" stop-color="#ebbe00"/>
<stop offset="0.7969" stop-color="#f8bc0c"/>
<stop offset="0.8125" stop-color="#ffbb20"/>
<stop offset="0.8281" stop-color="#ffbc2a"/>
<stop offset="0.8438" stop-color="#ffc027"/>
<stop offset="0.8594" stop-color="#ffc51d"/>
<stop offset="0.8750" stop-color="#ffcb0f"/>
<stop offset="0.8906" stop-color="#ffd100"/>
<stop offset="0.9062" stop-color="#ffd800"/>
<stop offset="0.9219" stop-color="#ffde00"/>
<stop offset="0.9375" stop-color="#fce400"/>
<stop offset="0.9531" stop-color="#f9ea00"/>
<stop offset="0.9688" stop-color="#f8f000"/>
<stop offset="0.9844" stop-color="#f8f500"/>
<stop offset="1.0000" stop-color="#f9fb00"/>
</linearGradient></defs>
<rect x="1891.3" y="37.7" width="86.6" height="1386.3" fill="url(#cb)" stroke="#262626" stroke-opacity="0.9" stroke-width="2"/>
<path d="M1962.9 1273.6H1977.9M1962.9 1121.9H1977.9M1962.9 970.2H1977.9M1962.9 818.5H1977.9M1962.9 666.7H1977.9M1962.9 515.0H1977.9M1962.9 363.3H1977.9M1962.9 211.6H1977.9M1962.9 59.9H1977.9" stroke="#2a2a2a" stroke-width="3" fill="none"/>
<g id="cblabels" font-size="58.5">
<text x="1999.6" y="1445.5">0</text>
<text x="1999.6" y="1293.7">0.05</text>
<text x="1999.6" y="1142.0">0.1</text>
<text x="1999.6" y="990.3">0.15</text>
<text x="1999.6" y="838.6">0.2</text>
<text x="1999.6" y="686.9">0.25</text>
<text x="1999.6" y="535.2">0.3</text>
<text x="1999.6" y="383.5">0.35</text>
<text x="1999.6" y="231.8">0.4</text>
<text x="1999.6" y="80.1">0.45</text>
</g>
<g id="ylabels" font-size="65.3" text-anchor="end">
<text x="238.4" y="1235.0">500</text>
<text x="238.4" y="1000.5">1000</text>
<text x="238.4" y="766.1">1500</text>
<text x="238.4" y="531.7">2000</text>
<text x="238.4" y="297.2">2500</text>
<text x="238.4" y="62.8">3000</text>
</g>
<g id="xlabels" font-size="65.3" text-anchor="middle">
<text x="502.5" y="1507.3">200</text>
<text x="822.8" y="1507.3">400</text>
<text x="1143.1" y="1507.3">600</text>
<text x="1463.4" y="1507.3">800</text>
<text x="1783.7" y="1507.3">1000</text>
</g>
<text id="xl" x="1022.6" y="1590.9" font-size="71" text-anchor="middle">PV Panel Power (kW)</text>
<text id="yl" transform="translate(78.2,731.0) rotate(-90)" font-size="71.2" text-anchor="middle">Nominal Battery Energy (kWh)</text>
<text id="cl" transform="translate(2172.5,730.5) rotate(-90)" font-size="57.9" text-anchor="middle">Power Loss Probability</text>
</svg>
</body></html>
